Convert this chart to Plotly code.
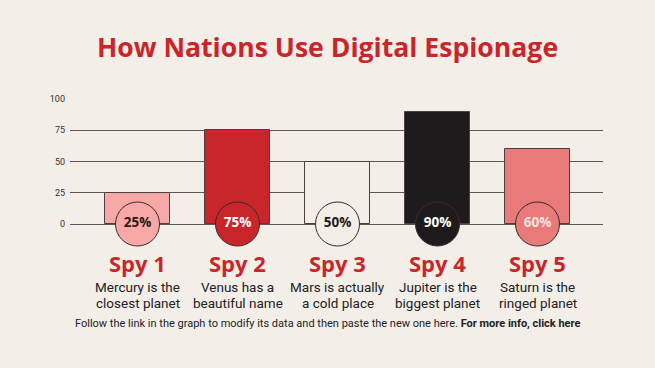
import plotly.graph_objects as go

categories = ["Spy 1", "Spy 2", "Spy 3", "Spy 4", "Spy 5"]
values = [25, 75, 50, 90, 60]
pct_labels = ["25%", "75%", "50%", "90%", "60%"]
desc_line1 = ["Mercury is the", "Venus has a", "Mars is actually", "Jupiter is the", "Saturn is the"]
desc_line2 = ["closest planet", "beautiful name", "a cold place", "biggest planet", "ringed planet"]
tick_vals = [0, 25, 50, 75, 100]

BG = "#f3eee8"
bar_colors = ["#f8a9a7", "#c9262b", BG, "#1f1b1c", "#e87a7a"]
text_colors = ["#2a1a1a", "#ffffff", "#1f1b1c", "#ffffff", "#fde3e1"]
RED = "#c9262b"
GRID = "#5e5555"

xs = list(range(len(categories)))

fig = go.Figure()
fig.add_trace(go.Bar(
    x=xs, y=values, width=0.65,
    marker=dict(color=bar_colors, line=dict(color="#4d4040", width=1)),
    hoverinfo="skip", showlegend=False,
))
fig.add_trace(go.Scatter(
    x=xs, y=[0] * len(xs), mode="markers+text",
    marker=dict(size=44, color=bar_colors, line=dict(color="#3a2a2a", width=1), opacity=1),
    text=pct_labels, textposition="middle center",
    textfont=dict(family="Open Sans", size=13.5, color=text_colors, weight="bold"),
    cliponaxis=False, showlegend=False, hoverinfo="skip",
))

for i, c in enumerate(categories):
    fig.add_annotation(x=i, xref="x", y=0, yref="paper", yshift=-39, text=c,
                       showarrow=False, yanchor="middle",
                       font=dict(family="Open Sans", size=22, color=RED, weight="bold"))
    fig.add_annotation(x=i, xref="x", y=0, yref="paper", yshift=-63, text=desc_line1[i],
                       showarrow=False, yanchor="middle",
                       font=dict(family="Roboto", size=13.5, color="#222222"))
    fig.add_annotation(x=i, xref="x", y=0, yref="paper", yshift=-79, text=desc_line2[i],
                       showarrow=False, yanchor="middle",
                       font=dict(family="Roboto", size=13.5, color="#222222"))

fig.add_annotation(x=(327.5 - 70) / 533, xref="paper", y=0, yref="paper", yshift=-99,
                   text="Follow the link in the graph to modify its data and then paste the new one here. <b>For more info, click here</b>",
                   showarrow=False, yanchor="middle",
                   font=dict(family="Roboto", size=11, color="#222222"))

fig.update_layout(
    width=655, height=368,
    paper_bgcolor=BG, plot_bgcolor=BG,
    margin=dict(l=70, r=52, t=98, b=144),
    title=dict(text="How Nations Use Digital Espionage", x=0.5, xanchor="center",
               y=1 - 48 / 368, yanchor="middle",
               font=dict(family="Open Sans", size=26.6, color=RED, weight="bold")),
    bargap=0,
)
fig.update_xaxes(range=[-0.675, 4.655], showgrid=False, showticklabels=False,
                 zeroline=False, showline=False, ticks="")
fig.update_yaxes(range=[0, 100.8], tickvals=tick_vals, showgrid=True, gridcolor=GRID,
                 gridwidth=1.3, zeroline=True, zerolinecolor=GRID, zerolinewidth=1.3,
                 showline=False, ticks="", ticklabelstandoff=4,
                 tickfont=dict(family="Roboto", size=9, color="#333333"))

fig.write_html("out.html", config={"displayModeBar": False},
               post_script="document.body.style.margin='0';document.body.style.background='%s';" % BG)
